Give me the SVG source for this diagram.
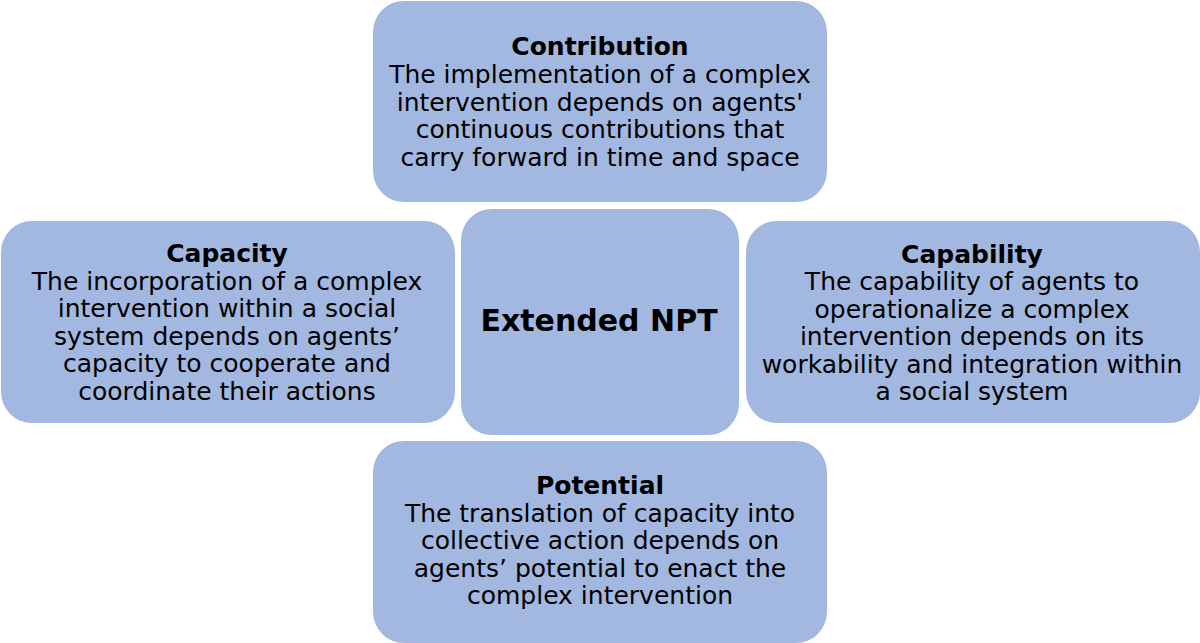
<svg xmlns="http://www.w3.org/2000/svg" width="1200" height="643" viewBox="0 0 1200 643">
<style>
.box{fill:#a2b8e0;}
text{font-family:"DejaVu Sans",Verdana,sans-serif;fill:#000;text-anchor:middle;}
.t{font-size:25px;font-weight:bold;}
.b{font-size:25px;}
.c{font-size:30px;font-weight:bold;}
</style>
<rect width="1200" height="643" fill="#ffffff"/>
<g id="contribution">
<rect class="box" x="373" y="1" width="454" height="201" rx="31" ry="31"/>
<text class="t" x="600" y="55">Contribution</text>
<text class="b" x="600" y="83">The implementation of a complex</text>
<text class="b" x="600" y="110.5">intervention depends on agents'</text>
<text class="b" x="600" y="138">continuous contributions that</text>
<text class="b" x="600" y="165.5">carry forward in time and space</text>
</g>
<g id="capacity">
<rect class="box" x="1" y="221" width="454" height="202" rx="31" ry="31"/>
<text class="t" x="227" y="262">Capacity</text>
<text class="b" x="227" y="289.5">The incorporation of a complex</text>
<text class="b" x="227" y="317">intervention within a social</text>
<text class="b" x="227" y="344.5">system depends on agents’</text>
<text class="b" x="227" y="372">capacity to cooperate and</text>
<text class="b" x="227" y="399.5">coordinate their actions</text>
</g>
<g id="extended-npt">
<rect class="box" x="461" y="209" width="278" height="226" rx="31" ry="31"/>
<text class="c" x="599" y="331">Extended NPT</text>
</g>
<g id="capability">
<rect class="box" x="746" y="221" width="454" height="202" rx="31" ry="31"/>
<text class="t" x="972" y="262.5">Capability</text>
<text class="b" x="972" y="290">The capability of agents to</text>
<text class="b" x="972" y="317.5">operationalize a complex</text>
<text class="b" x="972" y="345">intervention depends on its</text>
<text class="b" x="972" y="372.5">workability and integration within</text>
<text class="b" x="972" y="400">a social system</text>
</g>
<g id="potential">
<rect class="box" x="373" y="441" width="454" height="202" rx="31" ry="31"/>
<text class="t" x="600" y="494">Potential</text>
<text class="b" x="600" y="521.5">The translation of capacity into</text>
<text class="b" x="600" y="549">collective action depends on</text>
<text class="b" x="600" y="576.5">agents’ potential to enact the</text>
<text class="b" x="600" y="604">complex intervention</text>
</g>
<g id="connectors"></g>
</svg>
